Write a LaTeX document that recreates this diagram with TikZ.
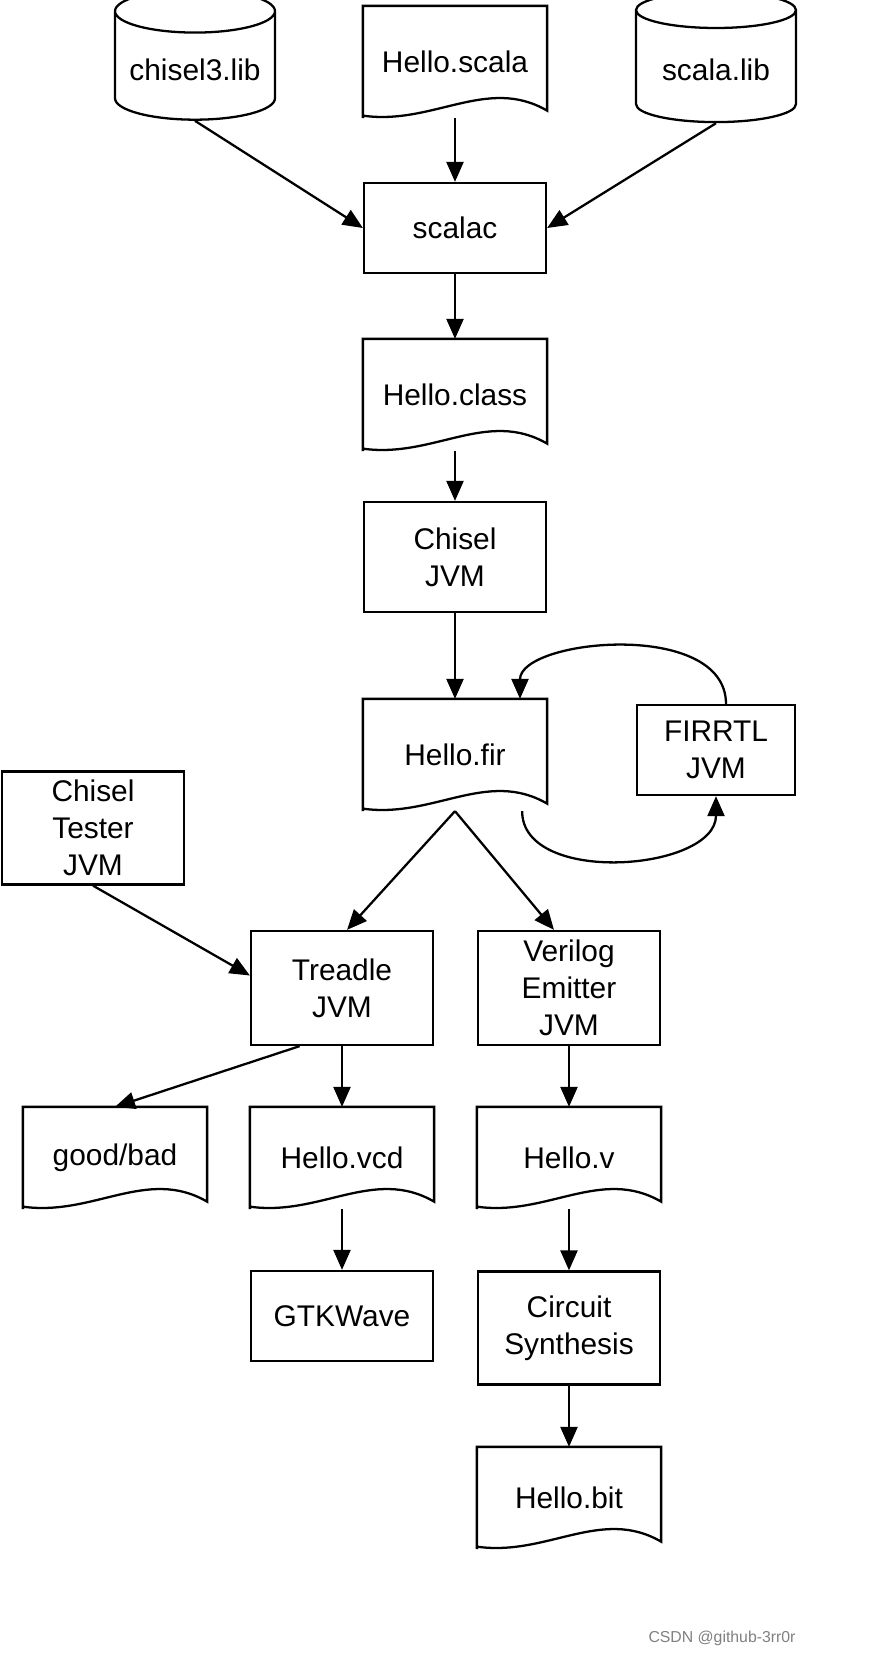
\documentclass[tikz,border=0pt]{standalone}
\usepackage{fontspec}
\setmainfont{Liberation Sans}
\usetikzlibrary{arrows.meta, shapes.geometric, calc}

\tikzset{
  box/.style = {draw, line width=1.3pt, minimum width=3.64cm, minimum height=1.8cm,
                align=center, font=\fontsize{17}{21}\selectfont},
  doc/.style = {box, draw=none},
  lib/.style = {draw, line width=1.3pt, cylinder, shape border rotate=90, aspect=0.3,
                minimum width=3.2cm, minimum height=2.6cm, font=\fontsize{17}{21}\selectfont},
  arr/.style = {line width=1.3pt, -{Triangle[length=0.4cm, width=0.34cm]}}
}

\begin{document}
\begin{tikzpicture}[x=0.02cm, y=-0.02cm]
  \useasboundingbox (0,0) rectangle (869,1661);
  % sources
  \node[lib] (c3l) at (195,70) {chisel3.lib};
  \node[doc, minimum height=2.2cm] (hsc) at (455,62) {Hello.scala};
  \node[lib] (sl) at (716,70) {scala.lib};
  \node[box] (sc) at (455,228) {scalac};
  \node[doc, minimum height=2.2cm] (hcl) at (455,395) {Hello.class};
  \node[box, minimum height=2.2cm] (cj) at (455,557) {Chisel\\JVM};
  \node[doc, minimum height=2.2cm] (fir) at (455,755) {Hello.fir};
  \node[box, minimum width=3.16cm] (frj) at (716,750) {FIRRTL\\JVM};
  % back ends
  \node[box, minimum height=2.26cm] (tst) at (93,828) {Chisel\\Tester\\JVM};
  \node[box, minimum height=2.28cm] (trd) at (342,988) {Treadle\\JVM};
  \node[box, minimum height=2.28cm] (ver) at (569,988) {Verilog\\Emitter\\JVM};
  \node[doc, minimum height=2cm] (gb) at (115,1158) {good/bad};
  \node[doc, minimum height=2cm] (vcd) at (342,1158) {Hello.vcd};
  \node[doc, minimum height=2cm] (hv) at (569,1158) {Hello.v};
  \node[box] (gtk) at (342,1316) {GTKWave};
  \node[box, minimum height=2.26cm] (cs) at (569,1328) {Circuit\\Synthesis};
  \node[doc, minimum height=2cm] (hb) at (569,1498) {Hello.bit};
  \node[text=gray, font=\fontsize{9}{11}\selectfont] (wm) at (722,1638) {CSDN @github-3rr0r};

  % document outlines
  \foreach \n in {hsc, hcl, fir, gb, vcd, hv, hb}
    \draw[line width=1.3pt] (\n.south west) -- (\n.north west) -- (\n.north east)
      -- ([yshift=0.15cm]\n.south east)
      .. controls +(-60,-35) and +(70,10) .. ([yshift=0.05cm]\n.south west) -- cycle;

  % connectors
  \draw[arr] (c3l.south) -- (sc.west);
  \draw[arr] (sl.south) -- (sc.east);
  \draw[arr] (hsc.south) -- (sc.north);
  \draw[arr] (sc) -- (hcl);
  \draw[arr] (hcl.south) -- (cj.north);
  \draw[arr] (cj) -- (fir);
  \draw[arr] ([xshift=-0.5cm]fir.south east) .. controls +(0,75) and +(0,75) .. (frj.south);
  \draw[arr] ([xshift=0.2cm]frj.north) .. controls +(0,-85) and +(0,-60) .. ([xshift=1.3cm]fir.north);
  \draw[arr] (fir.south) -- ([xshift=0.1cm]trd.north);
  \draw[arr] (fir.south) -- ([xshift=-0.3cm]ver.north);
  \draw[arr] (tst.south) -- ([yshift=0.25cm]trd.west);
  \draw[arr] ($(trd.south west)!0.27!(trd.south east)$) -- (gb.north);
  \draw[arr] (trd) -- (vcd);
  \draw[arr] (ver) -- (hv);
  \draw[arr] (vcd.south) -- (gtk.north);
  \draw[arr] (hv.south) -- (cs.north);
  \draw[arr] (cs) -- (hb);
\end{tikzpicture}
\end{document}
